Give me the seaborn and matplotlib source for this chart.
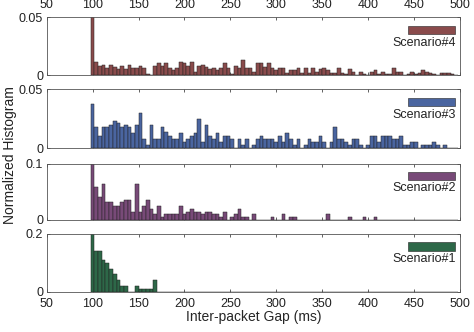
import numpy as np
import pandas as pd
import matplotlib
matplotlib.use("Agg")
import matplotlib.pyplot as plt
import seaborn as sns
from matplotlib.patches import Rectangle

# ---- data (bin centres in ms, 4 ms bins) ----
gap_ms = np.arange(100, 500, 4)
bin_width = 4
bin_range = (98, 498)

scenario4 = [0.060, 0.011, 0.008, 0.009, 0.006, 0.009, 0.007, 0.005, 0.008, 0.005,
             0.009, 0.006, 0.006, 0.008, 0.006, 0.001, 0.000, 0.008, 0.010, 0.008,
             0.010, 0.006, 0.004, 0.006, 0.011, 0.010, 0.008, 0.011, 0.003, 0.008,
             0.009, 0.007, 0.005, 0.006, 0.004, 0.006, 0.010, 0.006, 0.001, 0.008,
             0.006, 0.013, 0.006, 0.006, 0.003, 0.010, 0.010, 0.007, 0.010, 0.006,
             0.004, 0.006, 0.006, 0.002, 0.004, 0.004, 0.006, 0.002, 0.006, 0.002,
             0.006, 0.003, 0.005, 0.006, 0.004, 0.002, 0.002, 0.006, 0.002, 0.001,
             0.005, 0.003, 0.000, 0.003, 0.001, 0.000, 0.003, 0.004, 0.001, 0.003,
             0.001, 0.001, 0.006, 0.003, 0.003, 0.000, 0.001, 0.003, 0.001, 0.002,
             0.004, 0.003, 0.002, 0.001, 0.000, 0.002, 0.002, 0.002, 0.001, 0.000]

scenario3 = [0.037, 0.018, 0.010, 0.018, 0.018, 0.020, 0.023, 0.021, 0.018, 0.020,
             0.018, 0.013, 0.020, 0.030, 0.008, 0.003, 0.020, 0.008, 0.008, 0.018,
             0.014, 0.010, 0.008, 0.008, 0.013, 0.005, 0.008, 0.010, 0.013, 0.025,
             0.005, 0.020, 0.010, 0.008, 0.013, 0.005, 0.010, 0.010, 0.008, 0.000,
             0.008, 0.003, 0.008, 0.000, 0.003, 0.008, 0.010, 0.008, 0.008, 0.008,
             0.005, 0.010, 0.005, 0.013, 0.008, 0.003, 0.008, 0.000, 0.003, 0.008,
             0.005, 0.005, 0.010, 0.005, 0.000, 0.005, 0.018, 0.008, 0.008, 0.005,
             0.003, 0.008, 0.008, 0.003, 0.000, 0.003, 0.010, 0.010, 0.005, 0.010,
             0.010, 0.010, 0.008, 0.008, 0.010, 0.003, 0.003, 0.005, 0.005, 0.000,
             0.003, 0.003, 0.003, 0.005, 0.003, 0.000, 0.003, 0.000, 0.000, 0.000]

scenario2 = [0.100, 0.058, 0.041, 0.063, 0.031, 0.031, 0.025, 0.025, 0.031, 0.036,
             0.036, 0.015, 0.063, 0.015, 0.025, 0.036, 0.020, 0.010, 0.025, 0.005,
             0.010, 0.010, 0.010, 0.010, 0.025, 0.010, 0.015, 0.020, 0.015, 0.015,
             0.010, 0.015, 0.015, 0.010, 0.010, 0.005, 0.015, 0.000, 0.005, 0.010,
             0.020, 0.005, 0.005, 0.000, 0.010, 0.000, 0.000, 0.000, 0.000, 0.005,
             0.000, 0.000, 0.010, 0.000, 0.005, 0.005, 0.000, 0.000, 0.000, 0.000,
             0.000, 0.000, 0.000, 0.000, 0.010, 0.000, 0.000, 0.000, 0.000, 0.000,
             0.005, 0.000, 0.000, 0.000, 0.005, 0.000, 0.000, 0.005, 0.000, 0.000,
             0.000, 0.000, 0.000, 0.000, 0.000, 0.000, 0.000, 0.000, 0.000, 0.000,
             0.000, 0.000, 0.000, 0.000, 0.000, 0.000, 0.000, 0.000, 0.000, 0.000]

scenario1 = [0.20, 0.14, 0.14, 0.11, 0.10, 0.08, 0.06, 0.04, 0.02, 0.02,
             0.00, 0.00, 0.02, 0.01, 0.01, 0.01, 0.01, 0.04] + [0.0] * 82

labels = ["Scenario#4", "Scenario#3", "Scenario#2", "Scenario#1"]
series = [scenario4, scenario3, scenario2, scenario1]
ymaxes = [0.05, 0.05, 0.1, 0.2]
ytick_labels = [["0", "0.05"], ["0", "0.05"], ["0", "0.1"], ["0", "0.2"]]
colors = ["#8a4b4c", "#4a65a0", "#784a78", "#2d6848"]
xticks = np.arange(50, 501, 50)

# ---- style ----
sns.set_style("white")
plt.rcParams["font.family"] = ["Liberation Sans", "DejaVu Sans"]

W, H = 474, 332
fig = plt.figure(figsize=(W / 100, H / 100), dpi=100)

left_px, right_px = 46.7, 460.0
panel_px = [(17.3, 75.0), (89.0, 148.3), (163.5, 220.0), (234.0, 291.7)]

for i, (vals, lab, ymax, ytl, col) in enumerate(zip(series, labels, ymaxes, ytick_labels, colors)):
    top, bot = panel_px[i]
    ax = fig.add_axes([left_px / W, 1 - bot / H, (right_px - left_px) / W, (bot - top) / H])
    df = pd.DataFrame({"gap": gap_ms.astype(float), "val": np.asarray(vals, dtype=float)})
    sns.histplot(data=df, x="gap", weights="val", binwidth=bin_width, binrange=bin_range,
                 ax=ax, color=col, edgecolor="#222222", linewidth=0.35, alpha=1.0)
    ax.set_xlim(50, 500)
    ax.set_ylim(0, ymax)
    ax.set_xticks(xticks)
    ax.set_yticks([0, ymax])
    ax.set_yticklabels(ytl)
    ax.set_ylabel("")
    ax.set_xlabel("")
    ax.tick_params(direction="in", length=2.5, width=0.5, top=True, right=True,
                   bottom=True, left=True, labelsize=9, colors="#222222")
    ax.tick_params(axis="x", pad=4.5)
    ax.tick_params(axis="y", pad=2.5)
    if i == 0:
        ax.tick_params(labeltop=True, labelbottom=False)
    elif i == 3:
        ax.tick_params(labeltop=False, labelbottom=True)
        ax.set_xlabel("Inter-packet Gap (ms)", fontsize=10, labelpad=0.0)
    else:
        ax.tick_params(labeltop=False, labelbottom=False)
    for s in ax.spines.values():
        s.set_color("#555555")
        s.set_linewidth(0.6)
    # legend-like swatch and label
    ax.add_patch(Rectangle((0.873, 0.71), 0.116, 0.145, transform=ax.transAxes,
                           facecolor=col, edgecolor="#222222", linewidth=0.4, clip_on=False))
    ax.text(0.989, 0.56, lab, transform=ax.transAxes, ha="right", va="center",
            fontsize=9, color="#222222")

fig.text(10 / W, 1 - 155 / H, "Normalized Histogram", rotation=90, ha="center",
         va="center", fontsize=10, color="#222222")

fig.savefig("out.png", dpi=100)
